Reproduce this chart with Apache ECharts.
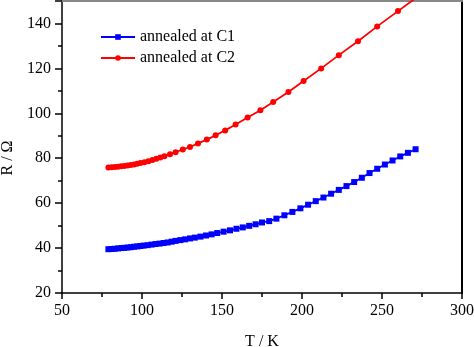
<!DOCTYPE html>
<html>
<head>
<meta charset="utf-8">
<script src="https://cdn.jsdelivr.net/npm/echarts@6/dist/echarts.min.js"></script>
<style>html,body{margin:0;padding:0;background:#fff}#c{width:474px;height:347px}</style>
</head>
<body>
<div id="c"></div>
<script>
var seriesNames = ['annealed at C1', 'annealed at C2'];
var tempC1 = [79, 81, 83, 85, 87, 89, 91, 93, 95, 97, 99, 101, 103.5, 106, 108.5, 111, 113.5, 116, 118.5, 121, 124, 127, 130, 133, 136.5, 140, 143.5, 147, 151, 155, 159, 163, 167, 171, 175, 179.5, 184, 189, 194, 199, 203.8, 208.6, 213.4, 218.2, 223, 227.8, 232.6, 237.4, 242.2, 247, 251.8, 256.6, 261.4, 266.2, 271];
var resC1 = [39.5, 39.6, 39.7, 39.85, 40.0, 40.1, 40.25, 40.4, 40.6, 40.75, 40.9, 41.1, 41.3, 41.55, 41.8, 42.0, 42.25, 42.5, 42.85, 43.2, 43.55, 43.9, 44.3, 44.65, 45.1, 45.6, 46.1, 46.7, 47.3, 47.9, 48.6, 49.2, 49.9, 50.6, 51.4, 52.0, 53.1, 54.6, 56.1, 57.7, 59.3, 60.9, 62.5, 64.2, 65.9, 67.6, 69.4, 71.3, 73.4, 75.3, 77.2, 79.0, 80.8, 82.4, 84.0];
var tempC2 = [79, 81, 83, 85, 87, 89, 91, 93, 95, 97, 99, 101.5, 104, 106.5, 109, 111.5, 114, 117.5, 121, 125.5, 130, 135, 140.5, 146, 152, 158.5, 166, 174, 182, 191.5, 201, 212, 223, 235, 247, 260, 272];
var resC2 = [75.9, 75.98, 76.09, 76.23, 76.38, 76.57, 76.77, 77.0, 77.26, 77.54, 77.84, 78.26, 78.71, 79.2, 79.73, 80.3, 80.9, 81.8, 82.7, 83.9, 85.0, 86.6, 88.3, 90.2, 92.4, 95.0, 98.1, 101.4, 105.0, 109.5, 114.4, 120.0, 125.9, 132.1, 138.7, 145.5, 151.8];
var xTicks = [50, 100, 150, 200, 250, 300];
var yTicks = [20, 40, 60, 80, 100, 120, 140];

function pairs(xs, ys) { return xs.map(function (x, i) { return [x, ys[i]]; }); }

var font = 'Liberation Serif';
var chart = echarts.init(document.getElementById('c'), null, { renderer: 'canvas' });
chart.setOption({
  animation: false,
  backgroundColor: '#fff',
  grid: { left: 62, right: 12, top: 1, bottom: 54, outerBoundsMode: 'none' },
  legend: {
    orient: 'vertical', left: 95, top: 24, itemGap: 5,
    itemWidth: 34, itemHeight: 7,
    textStyle: { fontFamily: font, fontSize: 16, color: '#000' },
    data: seriesNames
  },
  xAxis: [{
    type: 'value', min: xTicks[0], max: xTicks[xTicks.length - 1], interval: 50,
    name: 'T / K', nameLocation: 'middle', nameGap: 41,
    nameTextStyle: { fontFamily: font, fontSize: 16, color: '#000' },
    axisLine: { show: true, lineStyle: { color: '#000', width: 1.5 } },
    axisTick: { show: true, inside: false, length: 6, lineStyle: { color: '#000', width: 1.5 } },
    minorTick: { show: true, splitNumber: 2, length: 4, lineStyle: { color: '#000', width: 1.5 } },
    axisLabel: { fontFamily: font, fontSize: 16, color: '#000', margin: 10 },
    splitLine: { show: false }
  }, {
    type: 'value', position: 'top', min: 50, max: 300,
    axisLine: { show: true, onZero: false, lineStyle: { color: '#888', width: 2 } },
    axisTick: { show: false }, axisLabel: { show: false }, splitLine: { show: false }
  }],
  yAxis: [{
    type: 'value', min: yTicks[0], max: 150, interval: 20,
    name: 'R / Ω', nameLocation: 'middle', nameGap: 42,
    nameTextStyle: { fontFamily: font, fontSize: 16, color: '#000', padding: [0, 22, 0, 0] },
    axisLine: { show: true, lineStyle: { color: '#000', width: 1.5 } },
    axisTick: { show: true, inside: false, length: 7, lineStyle: { color: '#000', width: 1.5 } },
    minorTick: { show: true, splitNumber: 2, length: 4, lineStyle: { color: '#000', width: 1.5 } },
    axisLabel: { fontFamily: font, fontSize: 16, color: '#000', margin: 11, showMaxLabel: false },
    splitLine: { show: false }
  }, {
    type: 'value', position: 'right', min: 20, max: 150,
    axisLine: { show: true, onZero: false, lineStyle: { color: '#000', width: 2 } },
    axisTick: { show: false }, axisLabel: { show: false }, splitLine: { show: false }
  }],
  series: [{
    name: seriesNames[0], type: 'line', data: pairs(tempC1, resC1),
    symbol: 'rect', symbolSize: 6, showAllSymbol: true,
    itemStyle: { color: '#0000ff' }, lineStyle: { color: '#0000ff', width: 1.8 }
  }, {
    name: seriesNames[1], type: 'line', data: pairs(tempC2, resC2),
    symbol: 'circle', symbolSize: 6, showAllSymbol: true,
    itemStyle: { color: '#ff0000' }, lineStyle: { color: '#ff0000', width: 1.8 }
  }]
});
</script>
</body>
</html>
